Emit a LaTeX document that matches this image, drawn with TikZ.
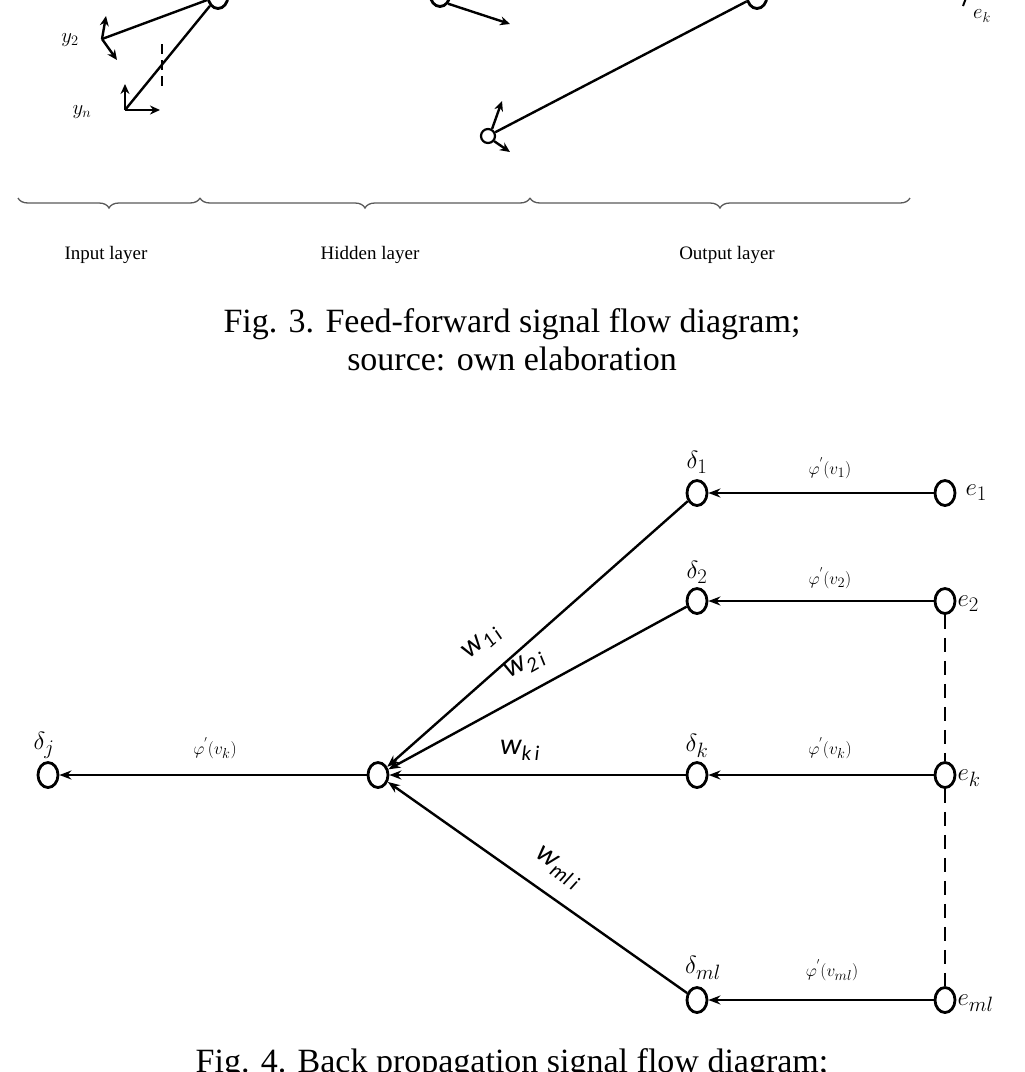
\documentclass[tikz,border=0pt]{standalone}
\usepackage{fontspec}
\setmainfont{Liberation Serif}
\newfontfamily\carlitofont{Carlito}
\usetikzlibrary{shapes.geometric,arrows.meta,decorations.pathreplacing}
\begin{document}
\begin{tikzpicture}[x=1pt,y=-1pt,
  nd/.style={draw,ellipse,line width=2.8pt,minimum width=20pt,minimum height=25pt,inner sep=0pt},
  sn/.style={draw,circle,line width=2.2pt,minimum size=14pt,inner sep=0pt},
  ar/.style={line width=2.8pt,-{Stealth[length=12pt,width=9pt]}},
  sa/.style={line width=2.4pt,-{Stealth[length=10pt,width=9pt]}},
  dl/.style={line width=2.6pt,dash pattern=on 14pt off 9pt},
  lb/.style={font=\fontsize{28}{30}\selectfont},
  pl/.style={font=\fontsize{19}{21}\selectfont},
  wl/.style={font=\carlitofont\itshape\fontsize{30}{32}\selectfont},
  captext/.style={font=\fontsize{34}{38}\selectfont}]
\useasboundingbox (0,0) rectangle (1025,1072);
\begin{scope}
\clip (0,0) rectangle (1025,1072);
% ---------- top fragment ----------
\node[nd] (a) at (218,-4) {};
\node[nd] (b) at (440,-6) {};
\node[nd] (c) at (757,-4) {};
\coordinate (y2) at (102,39);
\coordinate (yn) at (125,110);
\draw[line width=2.4pt] (a) -- (y2);
\draw[line width=2.4pt] (a) -- (yn);
\draw[sa] (y2) -- (106,16);
\draw[sa] (y2) -- (117,60);
\draw[sa] (yn) -- (125,84);
\draw[sa] (yn) -- (160,110);
\draw[line width=2.4pt,dash pattern=on 10pt off 6pt] (162,44) -- (162,90);
\node[font=\itshape\fontsize{22}{24}\selectfont] (ly2) at (70,40) {$y_2$};
\node[font=\itshape\fontsize{22}{24}\selectfont] (lyn) at (82,112) {$y_n$};
\draw[sa] (b.-50) -- (510,24);
\node[sn] (s) at (488,136) {};
\draw[line width=2.4pt] (c) -- (s);
\draw[sa] (s.60) -- (502,101);
\draw[sa] (s.-40) -- (510,152);
\draw[line width=2pt] (966,-2) -- (963,6);
\node[font=\fontsize{20}{22}\selectfont] (lek) at (982,16) {$e_k$};
% braces
\draw[gray!70!black,line width=1.3pt,decorate,decoration={brace,mirror,amplitude=10pt}] (18,198) -- (200,198);
\draw[gray!70!black,line width=1.3pt,decorate,decoration={brace,mirror,amplitude=10pt}] (200,198) -- (530,198);
\draw[gray!70!black,line width=1.3pt,decorate,decoration={brace,mirror,amplitude=10pt}] (530,198) -- (910,198);
\node[pl] (l1) at (106,255) {Input layer};
\node[pl] (l2) at (370,255) {Hidden layer};
\node[pl] (l3) at (727,255) {Output layer};
\node[captext,align=center] (c3) at (512,340) {Fig. 3. Feed-forward signal flow diagram;\\source: own elaboration};
% ---------- bottom graph ----------
\node[nd] (dj) at (48,775) {};
\node[nd] (m) at (378,775) {};
\node[nd] (d1) at (697,493) {};
\node[nd] (d2) at (697,601) {};
\node[nd] (dk) at (697,775) {};
\node[nd] (dm) at (697,1000) {};
\node[nd] (e1) at (945,493) {};
\node[nd] (e2) at (945,601) {};
\node[nd] (ek) at (945,775) {};
\node[nd] (em) at (945,1000) {};
\draw[ar] (e1) -- (d1);
\draw[ar] (e2) -- (d2);
\draw[ar] (ek) -- (dk);
\draw[ar] (em) -- (dm);
\draw[ar,line width=2.4pt] (d1) -- (m);
\draw[ar,line width=2.4pt] (d2) -- (m);
\draw[ar] (dk) -- (m);
\draw[ar,line width=2.4pt] (dm) -- (m);
\draw[ar] (m) -- (dj);
\draw[dl] (e2) -- (ek);
\draw[dl] (ek) -- (em);
\node[lb] (ld1) at (697,462) {$\delta_1$};
\node[lb] (ld2) at (697,572) {$\delta_2$};
\node[lb] (ldk) at (697,746) {$\delta_k$};
\node[lb] (ldm) at (703,968) {$\delta_{ml}$};
\node[lb] (ldj) at (44,745) {$\delta_j$};
\node[lb,anchor=west] (le1) at (962,493) {$e_1$};
\node[lb,anchor=west] (le2) at (954,604) {$e_2$};
\node[lb,anchor=west] (lek2) at (954,778) {$e_k$};
\node[lb,anchor=west] (lem) at (954,1003) {$e_{ml}$};
\node[pl] (p1) at (830,468) {$\varphi^{'}(v_1)$};
\node[pl] (p2) at (830,578) {$\varphi^{'}(v_2)$};
\node[pl] (pk) at (830,748) {$\varphi^{'}(v_k)$};
\node[pl] (pm) at (832,970) {$\varphi^{'}(v_{ml})$};
\node[pl] (pj) at (215,748) {$\varphi^{'}(v_k)$};
\node[wl,rotate=41.5] (w1) at (482,643) {w\textsubscript{1\,i}};
\node[wl,rotate=29] (w2) at (525,665) {w\textsubscript{2\,i}};
\node[wl] (wk) at (520,750) {w\textsubscript{k\,i}};
\node[wl,rotate=-35] (wm) at (558,868) {w\textsubscript{ml\,i}};
\node[captext] (c4) at (512,1064) {Fig. 4. Back propagation signal flow diagram;};
\end{scope}
\end{tikzpicture}
\end{document}
